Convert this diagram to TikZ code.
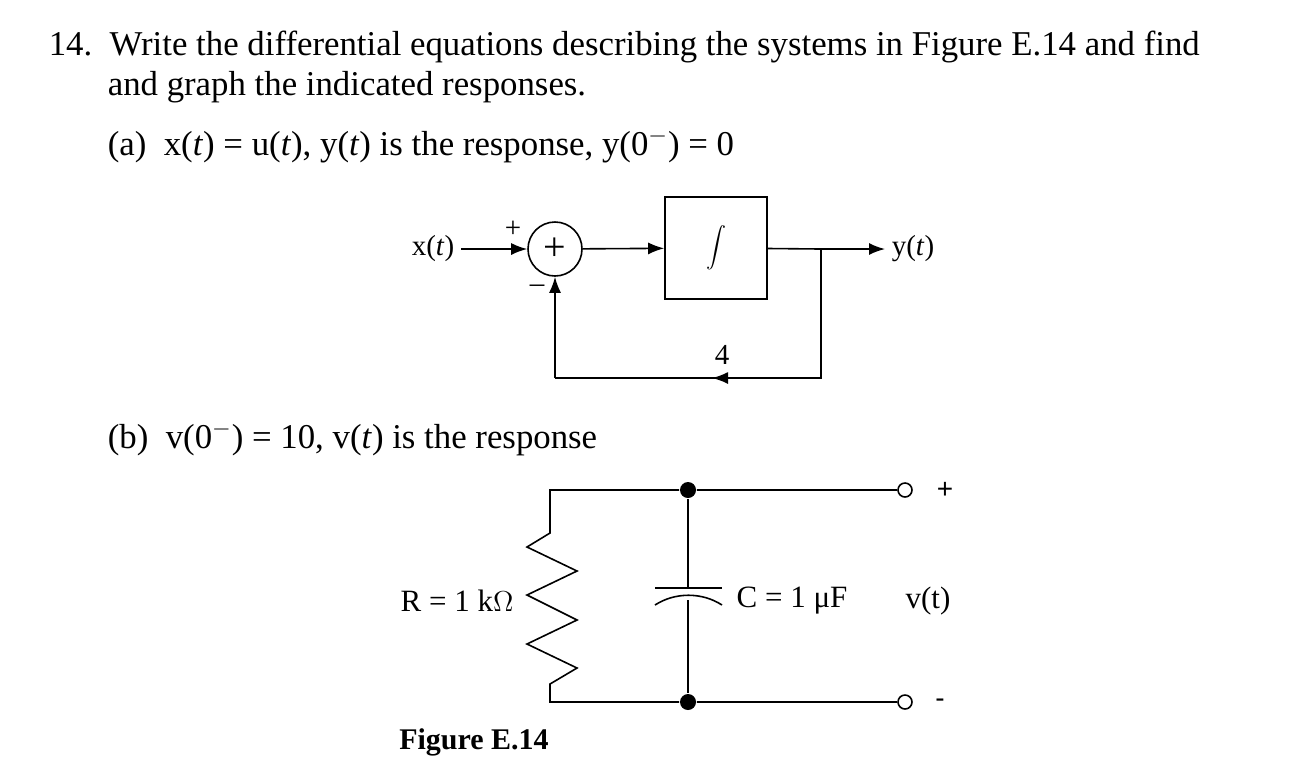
\documentclass[tikz,border=0pt]{standalone}
\usepackage{fontspec}
\setmainfont{Liberation Serif}
\newfontfamily\sansf{Liberation Sans}
\usetikzlibrary{arrows.meta}
\begin{document}
\begin{tikzpicture}[x=0.5pt,y=-0.5pt,line width=0.8pt,
  title/.style={anchor=base west,inner sep=0,font=\fontsize{17.4}{20}\selectfont},
  lab/.style={inner sep=3pt,font=\fontsize{14.5}{17}\selectfont},
  clab/.style={inner sep=1pt,font=\fontsize{15.5}{18}\selectfont},
  arr/.style={-{Latex[length=8pt,width=6pt]}},
  dot/.style={circle,fill,inner sep=0,minimum size=8pt},
  term/.style={circle,draw,fill=white,inner sep=0,minimum size=7pt}]
\useasboundingbox (0,0) rectangle (1310,768);
\node[title] (t1) at (48,55) {14.\ \ Write the differential equations describing the systems in Figure E.14 and find};
\node[title] (t2) at (107,95) {and graph the indicated responses.};
\node[title] (ta) at (107,155) {(a)\ \ x(\textit{t}) = u(\textit{t}), y(\textit{t}) is the response, y(0$^{-}$) = 0};
% block diagram
\node[lab] (x) at (433,249) {x(\textit{t})};
\node[circle,draw,minimum size=27pt,inner sep=0] (s) at (555,249) {\fontsize{20}{20}\selectfont +};
\node[draw,minimum width=51pt,minimum height=51pt] (int) at (716,248) {\fontsize{14}{14}\selectfont$\displaystyle\int$};
\coordinate (br) at (821,249);
\node[lab,anchor=west] (y) at (885,249) {y(\textit{t})};
\coordinate (c1) at (821,378);
\coordinate (c2) at (555,378);
\coordinate (mid) at (712,378);
\draw[arr] (x) -- (s);
\draw[arr] (s) -- (int);
\draw (int) -- (br);
\draw[arr] (br) -- (y);
\draw (br) -- (c1) -- (mid);
\draw[arr] (c1) -- (mid);
\draw (mid) -- (c2);
\draw[arr] (c2) -- (s);
\node[lab] (plus) at (513,229) {+};
\node[lab] (minus) at (537,289) {--};
\node[lab] (four) at (722,355) {4};
% part b
\node[title] (tb) at (107,448) {(b)\ \ v(0$^{-}$) = 10, v(\textit{t}) is the response};
\coordinate (rt) at (550,490);
\coordinate (rb) at (550,702);
\node[dot] (d1) at (688,490) {};
\node[dot] (d2) at (688,702) {};
\node[term] (o1) at (905,490) {};
\node[term] (o2) at (905,702) {};
\draw (o1) -- (d1) -- (rt) -- (550,533) -- (527,547) -- (577,571) -- (527,595) -- (577,620) -- (527,644) -- (577,668) -- (550,684) -- (rb) -- (d2) -- (o2);
\coordinate (cp1) at (688,588);
\coordinate (cp2) at (688,600);
\draw (d1) -- (cp1);
\draw (655,588) -- (722,588);
\draw (655,605) .. controls (675,592) and (702,592) .. (722,605);
\draw (cp2) -- (d2);
\node[clab] (R) at (457,601) {R = 1 k$\Omega$};
\node[clab] (C) at (792,601) {C = 1 μF};
\node[clab] (v) at (928,601) {v(t)};
\node[clab,font=\sansf\fontsize{14}{16}\selectfont] (pp) at (945,490) {+};
\node[clab,font=\sansf\fontsize{14}{16}\selectfont] (mm) at (940,703) {-};
\node[clab,font=\bfseries\fontsize{15}{18}\selectfont] (fig) at (474,742) {Figure E.14};
\end{tikzpicture}
\end{document}
